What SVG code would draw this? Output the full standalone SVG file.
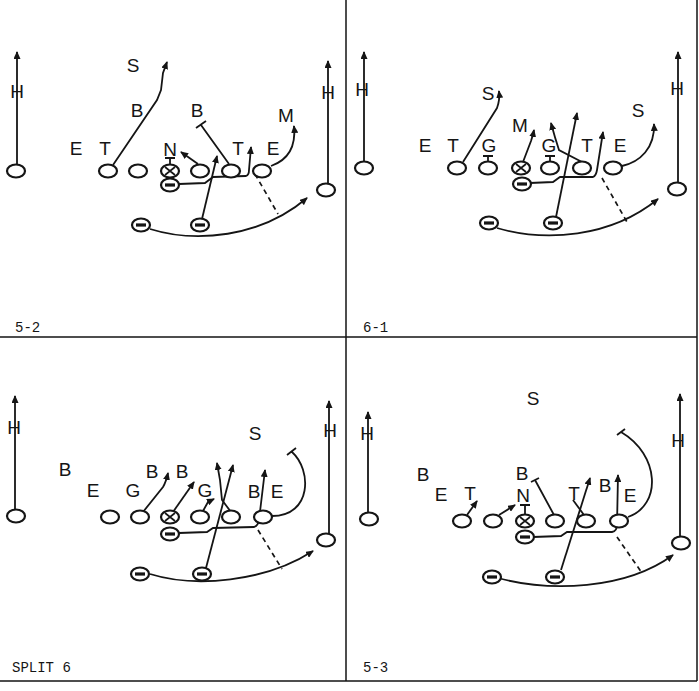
<svg xmlns="http://www.w3.org/2000/svg" xmlns:xlink="http://www.w3.org/1999/xlink" width="699" height="691" viewBox="0 0 699 691">
<style>
.o{fill:#fff;stroke:#151515;stroke-width:2.2}
.x{stroke:#151515;stroke-width:1.7;fill:none}
.ln{fill:none;stroke:#151515;stroke-width:1.8}
.ar{marker-end:url(#ah)}
.ds{fill:none;stroke:#151515;stroke-width:1.7;stroke-dasharray:5 4}
.bd{fill:none;stroke:#151515;stroke-width:1.5}
.lb{font-family:"Liberation Sans",Arial,sans-serif;font-size:19px;fill:#151515;text-anchor:middle}
.cp{font-family:"Liberation Mono","Courier New",monospace;font-size:14px;fill:#151515}
</style>
<defs>
<marker id="ah" markerUnits="userSpaceOnUse" markerWidth="8" markerHeight="7" refX="7" refY="3.5" orient="auto"><path d="M0,0 L8,3.5 L0,7 z" fill="#151515"/></marker>
<g id="o"><ellipse class="o" cx="0" cy="0" rx="9" ry="6.5"/></g>
<g id="q"><ellipse class="o" cx="0" cy="0" rx="9" ry="6.5"/><rect x="-5" y="-1.6" width="10" height="3.2" fill="#151515"/></g>
<g id="c"><ellipse class="o" cx="0" cy="0" rx="9" ry="6.5"/><path class="x" d="M-5,-4 L5,4 M-5,4 L5,-4"/></g>
</defs>
<rect width="699" height="691" fill="#fff"/>
<g id="frame">
<path class="bd" d="M346,0 L346,681 M0,337 L697,337 M697,0 L697,681 M0,681 L697,681"/>
<text class="cp" x="15" y="332">5-2</text>
<text class="cp" x="363" y="332">6-1</text>
<text class="cp" x="12" y="672">SPLIT 6</text>
<text class="cp" x="363" y="672">5-3</text>
</g>
<g id="connectors">
<!-- panel 1 -->
<path class="ln ar" d="M17,164 L17,52"/>
<path class="ln ar" d="M328,183 L328,61"/>
<path class="ln ar" d="M113,165 L157,100 L161,90 L163,73 L167,62"/>
<path class="ln ar" d="M198,164 L181,152"/>
<path class="ln" d="M229,164 L201,125 M196,128 L206,121"/>
<path class="ln" d="M170,164 L170,158 M165,158 L175,158"/>
<path class="ln ar" d="M179,184 L205,183 L213,177 L246,176 Q249,175 249,170 L251,147"/>
<path class="ln ar" d="M202,219 L217,156"/>
<path class="ds" d="M255,174 L278,214"/>
<path class="ln ar" d="M150,229 C195,243 260,238 307,198"/>
<path class="ln ar" d="M271,166 C288,160 296,146 294,126"/>
<!-- panel 2 -->
<path class="ln ar" d="M364,161 L364,52"/>
<path class="ln ar" d="M678,182 L678,52"/>
<path class="ln ar" d="M463,162 L497,108 Q500,100 499,91"/>
<path class="ln" d="M488,162 L488,156 M483,156 L493,156"/>
<path class="ln ar" d="M523,162 L531,141 Q533,135 534,130"/>
<path class="ln" d="M550,162 L550,156 M545,156 L555,156"/>
<path class="ln ar" d="M582,162 L559,150 Q555,138 551,123"/>
<path class="ln ar" d="M556,217 L577,113"/>
<path class="ln ar" d="M530,183 L553,182 L560,177 L593,177 Q596,176 597,170 L603,132"/>
<path class="ds" d="M602,178 L627,222"/>
<path class="ln ar" d="M497,228 C545,242 610,238 658,199"/>
<path class="ln ar" d="M622,166 C640,162 655,148 654,124"/>
<!-- panel 3 -->
<path class="ln ar" d="M15,509 L15,396"/>
<path class="ln ar" d="M329,533 L329,401"/>
<path class="ln ar" d="M143,512 L163,487 Q166,482 168,473"/>
<path class="ln ar" d="M173,512 L194,482"/>
<path class="ln ar" d="M203,511 L208,502 L214,499"/>
<path class="ln ar" d="M231,512 L222,500 L220,480 L217,463"/>
<path class="ln ar" d="M206,568 L233,465"/>
<path class="ln ar" d="M179,533 L207,532 L213,528 L254,527 Q258,526 259,520 L265,470"/>
<path class="ds" d="M258,530 L282,569"/>
<path class="ln ar" d="M150,574 C195,588 265,582 313,551"/>
<path class="ln" d="M272,516 C312,516 312,470 292,452 M287,455 L296,448"/>
<!-- panel 4 -->
<path class="ln ar" d="M368,512 L368,412"/>
<path class="ln ar" d="M680,536 L680,394"/>
<path class="ln ar" d="M467,515 L477,501"/>
<path class="ln ar" d="M499,515 L515,505"/>
<path class="ln" d="M525,514 L525,505 M520,505 L530,505"/>
<path class="ln" d="M554,515 L535,480 M531,482 L539,478"/>
<path class="ln" d="M584,515 L573,500"/>
<path class="ln ar" d="M561,570 L590,478"/>
<path class="ln ar" d="M533,537 L561,536 L567,532 L612,532 Q617,531 617,525 L618,475"/>
<path class="ds" d="M617,537 L642,573"/>
<path class="ln ar" d="M498,578 C550,592 625,590 673,555"/>
<path class="ln" d="M628,517 C662,505 660,455 621,432 M617,435 L625,429"/>
</g>
<g id="panel-5-2">
<g id="p1-lh"><use href="#o" x="16" y="171"/></g>
<g id="p1-le"><use href="#o" x="108" y="171"/></g>
<g id="p1-lt"><use href="#o" x="138" y="171"/></g>
<g id="p1-c"><use href="#c" x="170" y="171"/></g>
<g id="p1-rg"><use href="#o" x="200" y="171"/></g>
<g id="p1-rt"><use href="#o" x="231" y="171"/></g>
<g id="p1-re"><use href="#o" x="262" y="171"/></g>
<g id="p1-qb"><use href="#q" x="170" y="185"/></g>
<g id="p1-hb"><use href="#q" x="141" y="225"/></g>
<g id="p1-fb"><use href="#q" x="200" y="225"/></g>
<g id="p1-fl"><use href="#o" x="326" y="190"/></g>
<g id="p1-labels">
<text class="lb" x="17" y="98">H</text><text class="lb" x="328" y="99">H</text>
<text class="lb" x="133" y="72">S</text>
<text class="lb" x="137" y="117">B</text><text class="lb" x="197" y="117">B</text><text class="lb" x="286" y="122">M</text>
<text class="lb" x="76" y="155">E</text><text class="lb" x="105" y="155">T</text><text class="lb" x="170" y="156">N</text><text class="lb" x="238" y="155">T</text><text class="lb" x="273" y="155">E</text>
</g>
</g>
<g id="panel-6-1">
<g id="p2-lh"><use href="#o" x="364" y="168"/></g>
<g id="p2-le"><use href="#o" x="457" y="168"/></g>
<g id="p2-lg"><use href="#o" x="488" y="168"/></g>
<g id="p2-c"><use href="#c" x="521" y="168"/></g>
<g id="p2-rg"><use href="#o" x="550" y="168"/></g>
<g id="p2-rt"><use href="#o" x="582" y="168"/></g>
<g id="p2-re"><use href="#o" x="613" y="168"/></g>
<g id="p2-qb"><use href="#q" x="522" y="184"/></g>
<g id="p2-hb"><use href="#q" x="489" y="223"/></g>
<g id="p2-fb"><use href="#q" x="553" y="223"/></g>
<g id="p2-fl"><use href="#o" x="677" y="189"/></g>
<g id="p2-labels">
<text class="lb" x="362" y="96">H</text><text class="lb" x="677" y="95">H</text>
<text class="lb" x="488" y="100">S</text><text class="lb" x="638" y="117">S</text><text class="lb" x="520" y="132">M</text>
<text class="lb" x="425" y="152">E</text><text class="lb" x="453" y="152">T</text><text class="lb" x="489" y="152">G</text><text class="lb" x="549" y="152">G</text><text class="lb" x="587" y="152">T</text><text class="lb" x="620" y="152">E</text>
</g>
</g>
<g id="panel-split-6">
<g id="p3-lh"><use href="#o" x="16" y="516"/></g>
<g id="p3-le"><use href="#o" x="110" y="517"/></g>
<g id="p3-lg"><use href="#o" x="140" y="517"/></g>
<g id="p3-c"><use href="#c" x="170" y="517"/></g>
<g id="p3-rg"><use href="#o" x="200" y="517"/></g>
<g id="p3-rt"><use href="#o" x="231" y="517"/></g>
<g id="p3-re"><use href="#o" x="263" y="517"/></g>
<g id="p3-qb"><use href="#q" x="170" y="534"/></g>
<g id="p3-hb"><use href="#q" x="140" y="574"/></g>
<g id="p3-fb"><use href="#q" x="202" y="574"/></g>
<g id="p3-fl"><use href="#o" x="326" y="540"/></g>
<g id="p3-labels">
<text class="lb" x="14" y="434">H</text><text class="lb" x="330" y="437">H</text>
<text class="lb" x="255" y="440">S</text>
<text class="lb" x="65" y="476">B</text><text class="lb" x="152" y="478">B</text><text class="lb" x="182" y="478">B</text>
<text class="lb" x="93" y="497">E</text><text class="lb" x="133" y="497">G</text><text class="lb" x="205" y="497">G</text><text class="lb" x="254" y="498">B</text><text class="lb" x="277" y="498">E</text>
</g>
</g>
<g id="panel-5-3">
<g id="p4-lh"><use href="#o" x="369" y="519"/></g>
<g id="p4-le"><use href="#o" x="462" y="521"/></g>
<g id="p4-lt"><use href="#o" x="493" y="521"/></g>
<g id="p4-c"><use href="#c" x="525" y="521"/></g>
<g id="p4-rg"><use href="#o" x="555" y="521"/></g>
<g id="p4-rt"><use href="#o" x="586" y="521"/></g>
<g id="p4-re"><use href="#o" x="619" y="521"/></g>
<g id="p4-qb"><use href="#q" x="525" y="537"/></g>
<g id="p4-hb"><use href="#q" x="492" y="577"/></g>
<g id="p4-fb"><use href="#q" x="555" y="577"/></g>
<g id="p4-fl"><use href="#o" x="681" y="543"/></g>
<g id="p4-labels">
<text class="lb" x="367" y="440">H</text><text class="lb" x="678" y="447">H</text>
<text class="lb" x="533" y="405">S</text>
<text class="lb" x="423" y="481">B</text><text class="lb" x="522" y="480">B</text><text class="lb" x="605" y="492">B</text>
<text class="lb" x="441" y="501">E</text><text class="lb" x="470" y="500">T</text><text class="lb" x="523" y="502">N</text><text class="lb" x="574" y="500">T</text><text class="lb" x="630" y="502">E</text>
</g>
</g>
</svg>
